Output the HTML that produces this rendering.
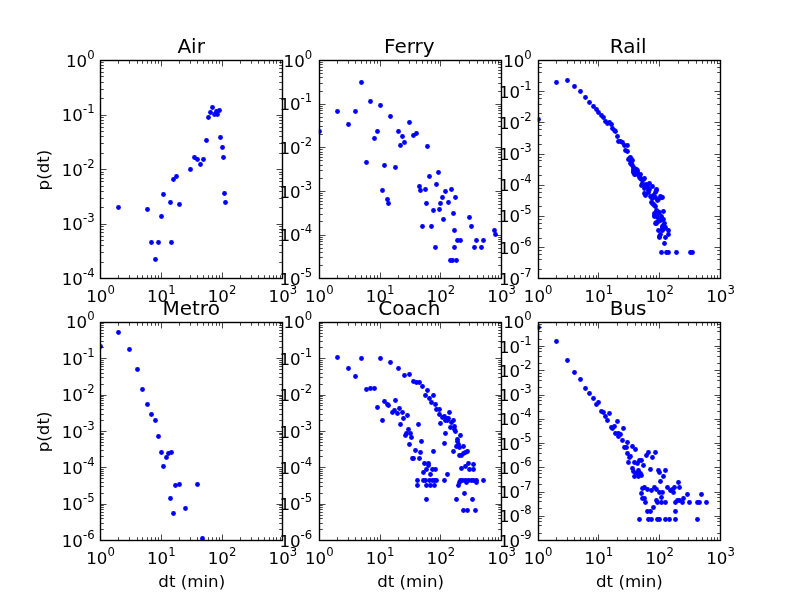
<!DOCTYPE html>
<html><head><meta charset="utf-8"><title>p(dt)</title>
<style>html,body{margin:0;padding:0;background:#fff}svg{display:block}text{font-family:"DejaVu Sans","Liberation Sans",sans-serif;fill:#000}</style></head><body>
<svg width="800" height="600" viewBox="0 0 800 600">
<rect width="800" height="600" fill="#fff"/>
<g>
<clipPath id="c0"><rect x="100.00" y="60.00" width="182.35" height="218.18"/></clipPath>
<g clip-path="url(#c0)" fill="#0000ff" >
<circle cx="212.5" cy="107.5" r="2.4"/>
<circle cx="210.5" cy="112.5" r="2.4"/>
<circle cx="219.5" cy="110.5" r="2.4"/>
<circle cx="216.5" cy="111.5" r="2.4"/>
<circle cx="214.5" cy="114.5" r="2.4"/>
<circle cx="217.5" cy="114.5" r="2.4"/>
<circle cx="208.5" cy="117.5" r="2.4"/>
<circle cx="220.5" cy="137.5" r="2.4"/>
<circle cx="206.5" cy="140.5" r="2.4"/>
<circle cx="222.5" cy="147.5" r="2.4"/>
<circle cx="223.5" cy="157.5" r="2.4"/>
<circle cx="194.5" cy="157.5" r="2.4"/>
<circle cx="197.5" cy="159.5" r="2.4"/>
<circle cx="203.5" cy="159.5" r="2.4"/>
<circle cx="200.5" cy="164.5" r="2.4"/>
<circle cx="190.5" cy="169.5" r="2.4"/>
<circle cx="176.5" cy="176.5" r="2.4"/>
<circle cx="173.5" cy="179.5" r="2.4"/>
<circle cx="163.5" cy="194.5" r="2.4"/>
<circle cx="224.5" cy="193.5" r="2.4"/>
<circle cx="170.5" cy="202.5" r="2.4"/>
<circle cx="179.5" cy="204.5" r="2.4"/>
<circle cx="225.5" cy="202.5" r="2.4"/>
<circle cx="118.5" cy="207.5" r="2.4"/>
<circle cx="147.5" cy="209.5" r="2.4"/>
<circle cx="161.5" cy="216.5" r="2.4"/>
<circle cx="151.5" cy="242.5" r="2.4"/>
<circle cx="158.5" cy="242.5" r="2.4"/>
<circle cx="171.5" cy="242.5" r="2.4"/>
<circle cx="155.5" cy="259.5" r="2.4"/>
</g>
<path d="M118.5 278.5v-3.3M118.5 60.5v3.3M129.5 278.5v-3.3M129.5 60.5v3.3M137.5 278.5v-3.3M137.5 60.5v3.3M142.5 278.5v-3.3M142.5 60.5v3.3M147.5 278.5v-3.3M147.5 60.5v3.3M151.5 278.5v-3.3M151.5 60.5v3.3M155.5 278.5v-3.3M155.5 60.5v3.3M158.5 278.5v-3.3M158.5 60.5v3.3M161.5 278.5v-6.0M161.5 60.5v6.0M179.5 278.5v-3.3M179.5 60.5v3.3M190.5 278.5v-3.3M190.5 60.5v3.3M197.5 278.5v-3.3M197.5 60.5v3.3M203.5 278.5v-3.3M203.5 60.5v3.3M208.5 278.5v-3.3M208.5 60.5v3.3M212.5 278.5v-3.3M212.5 60.5v3.3M216.5 278.5v-3.3M216.5 60.5v3.3M219.5 278.5v-3.3M219.5 60.5v3.3M222.5 278.5v-6.0M222.5 60.5v6.0M240.5 278.5v-3.3M240.5 60.5v3.3M251.5 278.5v-3.3M251.5 60.5v3.3M258.5 278.5v-3.3M258.5 60.5v3.3M264.5 278.5v-3.3M264.5 60.5v3.3M269.5 278.5v-3.3M269.5 60.5v3.3M273.5 278.5v-3.3M273.5 60.5v3.3M276.5 278.5v-3.3M276.5 60.5v3.3M280.5 278.5v-3.3M280.5 60.5v3.3M100.5 262.5h3.3M282.5 262.5h-3.3M100.5 252.5h3.3M282.5 252.5h-3.3M100.5 245.5h3.3M282.5 245.5h-3.3M100.5 240.5h3.3M282.5 240.5h-3.3M100.5 236.5h3.3M282.5 236.5h-3.3M100.5 232.5h3.3M282.5 232.5h-3.3M100.5 229.5h3.3M282.5 229.5h-3.3M100.5 226.5h3.3M282.5 226.5h-3.3M100.5 224.5h6.0M282.5 224.5h-6.0M100.5 207.5h3.3M282.5 207.5h-3.3M100.5 198.5h3.3M282.5 198.5h-3.3M100.5 191.5h3.3M282.5 191.5h-3.3M100.5 186.5h3.3M282.5 186.5h-3.3M100.5 181.5h3.3M282.5 181.5h-3.3M100.5 178.5h3.3M282.5 178.5h-3.3M100.5 174.5h3.3M282.5 174.5h-3.3M100.5 172.5h3.3M282.5 172.5h-3.3M100.5 169.5h6.0M282.5 169.5h-6.0M100.5 153.5h3.3M282.5 153.5h-3.3M100.5 143.5h3.3M282.5 143.5h-3.3M100.5 136.5h3.3M282.5 136.5h-3.3M100.5 131.5h3.3M282.5 131.5h-3.3M100.5 127.5h3.3M282.5 127.5h-3.3M100.5 123.5h3.3M282.5 123.5h-3.3M100.5 120.5h3.3M282.5 120.5h-3.3M100.5 117.5h3.3M282.5 117.5h-3.3M100.5 115.5h6.0M282.5 115.5h-6.0M100.5 98.5h3.3M282.5 98.5h-3.3M100.5 89.5h3.3M282.5 89.5h-3.3M100.5 82.5h3.3M282.5 82.5h-3.3M100.5 76.5h3.3M282.5 76.5h-3.3M100.5 72.5h3.3M282.5 72.5h-3.3M100.5 68.5h3.3M282.5 68.5h-3.3M100.5 65.5h3.3M282.5 65.5h-3.3M100.5 62.5h3.3M282.5 62.5h-3.3" stroke="#000" stroke-width="0.72" fill="none"/>
<rect x="100.5" y="60.5" width="182.0" height="218.0" fill="none" stroke="#000" stroke-width="1.39"/>
<text x="100.50" y="301.78" font-size="16.67" text-anchor="middle">10<tspan font-size="11.67" dy="-8.0">0</tspan></text>
<text x="161.28" y="301.78" font-size="16.67" text-anchor="middle">10<tspan font-size="11.67" dy="-8.0">1</tspan></text>
<text x="222.07" y="301.78" font-size="16.67" text-anchor="middle">10<tspan font-size="11.67" dy="-8.0">2</tspan></text>
<text x="282.85" y="301.78" font-size="16.67" text-anchor="middle">10<tspan font-size="11.67" dy="-8.0">3</tspan></text>
<text x="94.60" y="284.78" font-size="16.67" text-anchor="end">10<tspan font-size="11.67" dy="-8.0">-4</tspan></text>
<text x="94.60" y="230.24" font-size="16.67" text-anchor="end">10<tspan font-size="11.67" dy="-8.0">-3</tspan></text>
<text x="94.60" y="175.69" font-size="16.67" text-anchor="end">10<tspan font-size="11.67" dy="-8.0">-2</tspan></text>
<text x="94.60" y="121.15" font-size="16.67" text-anchor="end">10<tspan font-size="11.67" dy="-8.0">-1</tspan></text>
<text x="94.60" y="66.60" font-size="16.67" text-anchor="end">10<tspan font-size="11.67" dy="-8.0">0</tspan></text>
<text x="191.18" y="52.50" font-size="20" text-anchor="middle">Air</text>
<text transform="translate(48.8 170.09) rotate(-90)" font-size="16.67" text-anchor="middle">p(dt)</text>
</g>
<g>
<clipPath id="c1"><rect x="318.82" y="60.00" width="182.35" height="218.18"/></clipPath>
<g clip-path="url(#c1)" fill="#0000ff" >
<circle cx="361.5" cy="82.5" r="2.4"/>
<circle cx="370.5" cy="101.5" r="2.4"/>
<circle cx="380.5" cy="105.5" r="2.4"/>
<circle cx="337.5" cy="111.5" r="2.4"/>
<circle cx="355.5" cy="111.5" r="2.4"/>
<circle cx="390.5" cy="116.5" r="2.4"/>
<circle cx="348.5" cy="124.5" r="2.4"/>
<circle cx="409.5" cy="122.5" r="2.4"/>
<circle cx="319.5" cy="131.5" r="2.4"/>
<circle cx="377.5" cy="131.5" r="2.4"/>
<circle cx="398.5" cy="131.5" r="2.4"/>
<circle cx="402.5" cy="136.5" r="2.4"/>
<circle cx="413.5" cy="135.5" r="2.4"/>
<circle cx="416.5" cy="133.5" r="2.4"/>
<circle cx="374.5" cy="138.5" r="2.4"/>
<circle cx="404.5" cy="142.5" r="2.4"/>
<circle cx="400.5" cy="145.5" r="2.4"/>
<circle cx="427.5" cy="146.5" r="2.4"/>
<circle cx="366.5" cy="162.5" r="2.4"/>
<circle cx="384.5" cy="165.5" r="2.4"/>
<circle cx="395.5" cy="167.5" r="2.4"/>
<circle cx="438.5" cy="172.5" r="2.4"/>
<circle cx="429.5" cy="176.5" r="2.4"/>
<circle cx="436.5" cy="184.5" r="2.4"/>
<circle cx="419.5" cy="186.5" r="2.4"/>
<circle cx="420.5" cy="190.5" r="2.4"/>
<circle cx="425.5" cy="189.5" r="2.4"/>
<circle cx="382.5" cy="190.5" r="2.4"/>
<circle cx="451.5" cy="189.5" r="2.4"/>
<circle cx="445.5" cy="191.5" r="2.4"/>
<circle cx="442.5" cy="197.5" r="2.4"/>
<circle cx="455.5" cy="197.5" r="2.4"/>
<circle cx="387.5" cy="199.5" r="2.4"/>
<circle cx="388.5" cy="203.5" r="2.4"/>
<circle cx="426.5" cy="203.5" r="2.4"/>
<circle cx="440.5" cy="203.5" r="2.4"/>
<circle cx="448.5" cy="202.5" r="2.4"/>
<circle cx="433.5" cy="210.5" r="2.4"/>
<circle cx="439.5" cy="209.5" r="2.4"/>
<circle cx="453.5" cy="213.5" r="2.4"/>
<circle cx="443.5" cy="219.5" r="2.4"/>
<circle cx="469.5" cy="217.5" r="2.4"/>
<circle cx="422.5" cy="226.5" r="2.4"/>
<circle cx="431.5" cy="226.5" r="2.4"/>
<circle cx="471.5" cy="226.5" r="2.4"/>
<circle cx="454.5" cy="230.5" r="2.4"/>
<circle cx="494.5" cy="230.5" r="2.4"/>
<circle cx="495.5" cy="234.5" r="2.4"/>
<circle cx="457.5" cy="240.5" r="2.4"/>
<circle cx="460.5" cy="240.5" r="2.4"/>
<circle cx="476.5" cy="240.5" r="2.4"/>
<circle cx="483.5" cy="240.5" r="2.4"/>
<circle cx="435.5" cy="247.5" r="2.4"/>
<circle cx="454.5" cy="247.5" r="2.4"/>
<circle cx="474.5" cy="247.5" r="2.4"/>
<circle cx="481.5" cy="247.5" r="2.4"/>
<circle cx="450.5" cy="260.5" r="2.4"/>
<circle cx="452.5" cy="260.5" r="2.4"/>
<circle cx="456.5" cy="260.5" r="2.4"/>
</g>
<path d="M337.5 278.5v-3.3M337.5 60.5v3.3M348.5 278.5v-3.3M348.5 60.5v3.3M355.5 278.5v-3.3M355.5 60.5v3.3M361.5 278.5v-3.3M361.5 60.5v3.3M366.5 278.5v-3.3M366.5 60.5v3.3M370.5 278.5v-3.3M370.5 60.5v3.3M374.5 278.5v-3.3M374.5 60.5v3.3M377.5 278.5v-3.3M377.5 60.5v3.3M380.5 278.5v-6.0M380.5 60.5v6.0M398.5 278.5v-3.3M398.5 60.5v3.3M409.5 278.5v-3.3M409.5 60.5v3.3M416.5 278.5v-3.3M416.5 60.5v3.3M422.5 278.5v-3.3M422.5 60.5v3.3M427.5 278.5v-3.3M427.5 60.5v3.3M431.5 278.5v-3.3M431.5 60.5v3.3M435.5 278.5v-3.3M435.5 60.5v3.3M438.5 278.5v-3.3M438.5 60.5v3.3M440.5 278.5v-6.0M440.5 60.5v6.0M459.5 278.5v-3.3M459.5 60.5v3.3M469.5 278.5v-3.3M469.5 60.5v3.3M477.5 278.5v-3.3M477.5 60.5v3.3M483.5 278.5v-3.3M483.5 60.5v3.3M488.5 278.5v-3.3M488.5 60.5v3.3M492.5 278.5v-3.3M492.5 60.5v3.3M495.5 278.5v-3.3M495.5 60.5v3.3M498.5 278.5v-3.3M498.5 60.5v3.3M319.5 265.5h3.3M501.5 265.5h-3.3M319.5 257.5h3.3M501.5 257.5h-3.3M319.5 252.5h3.3M501.5 252.5h-3.3M319.5 248.5h3.3M501.5 248.5h-3.3M319.5 244.5h3.3M501.5 244.5h-3.3M319.5 241.5h3.3M501.5 241.5h-3.3M319.5 239.5h3.3M501.5 239.5h-3.3M319.5 237.5h3.3M501.5 237.5h-3.3M319.5 235.5h6.0M501.5 235.5h-6.0M319.5 221.5h3.3M501.5 221.5h-3.3M319.5 214.5h3.3M501.5 214.5h-3.3M319.5 208.5h3.3M501.5 208.5h-3.3M319.5 204.5h3.3M501.5 204.5h-3.3M319.5 201.5h3.3M501.5 201.5h-3.3M319.5 198.5h3.3M501.5 198.5h-3.3M319.5 195.5h3.3M501.5 195.5h-3.3M319.5 193.5h3.3M501.5 193.5h-3.3M319.5 191.5h6.0M501.5 191.5h-6.0M319.5 178.5h3.3M501.5 178.5h-3.3M319.5 170.5h3.3M501.5 170.5h-3.3M319.5 165.5h3.3M501.5 165.5h-3.3M319.5 160.5h3.3M501.5 160.5h-3.3M319.5 157.5h3.3M501.5 157.5h-3.3M319.5 154.5h3.3M501.5 154.5h-3.3M319.5 152.5h3.3M501.5 152.5h-3.3M319.5 149.5h3.3M501.5 149.5h-3.3M319.5 147.5h6.0M501.5 147.5h-6.0M319.5 134.5h3.3M501.5 134.5h-3.3M319.5 126.5h3.3M501.5 126.5h-3.3M319.5 121.5h3.3M501.5 121.5h-3.3M319.5 117.5h3.3M501.5 117.5h-3.3M319.5 113.5h3.3M501.5 113.5h-3.3M319.5 110.5h3.3M501.5 110.5h-3.3M319.5 108.5h3.3M501.5 108.5h-3.3M319.5 106.5h3.3M501.5 106.5h-3.3M319.5 104.5h6.0M501.5 104.5h-6.0M319.5 91.5h3.3M501.5 91.5h-3.3M319.5 83.5h3.3M501.5 83.5h-3.3M319.5 77.5h3.3M501.5 77.5h-3.3M319.5 73.5h3.3M501.5 73.5h-3.3M319.5 70.5h3.3M501.5 70.5h-3.3M319.5 67.5h3.3M501.5 67.5h-3.3M319.5 64.5h3.3M501.5 64.5h-3.3M319.5 62.5h3.3M501.5 62.5h-3.3" stroke="#000" stroke-width="0.72" fill="none"/>
<rect x="319.5" y="60.5" width="182.0" height="218.0" fill="none" stroke="#000" stroke-width="1.39"/>
<text x="319.32" y="301.78" font-size="16.67" text-anchor="middle">10<tspan font-size="11.67" dy="-8.0">0</tspan></text>
<text x="380.11" y="301.78" font-size="16.67" text-anchor="middle">10<tspan font-size="11.67" dy="-8.0">1</tspan></text>
<text x="440.89" y="301.78" font-size="16.67" text-anchor="middle">10<tspan font-size="11.67" dy="-8.0">2</tspan></text>
<text x="501.68" y="301.78" font-size="16.67" text-anchor="middle">10<tspan font-size="11.67" dy="-8.0">3</tspan></text>
<text x="312.22" y="284.78" font-size="16.67" text-anchor="end">10<tspan font-size="11.67" dy="-8.0">-5</tspan></text>
<text x="312.22" y="241.15" font-size="16.67" text-anchor="end">10<tspan font-size="11.67" dy="-8.0">-4</tspan></text>
<text x="312.22" y="197.51" font-size="16.67" text-anchor="end">10<tspan font-size="11.67" dy="-8.0">-3</tspan></text>
<text x="312.22" y="153.87" font-size="16.67" text-anchor="end">10<tspan font-size="11.67" dy="-8.0">-2</tspan></text>
<text x="312.22" y="110.24" font-size="16.67" text-anchor="end">10<tspan font-size="11.67" dy="-8.0">-1</tspan></text>
<text x="312.22" y="66.60" font-size="16.67" text-anchor="end">10<tspan font-size="11.67" dy="-8.0">0</tspan></text>
<text x="409.30" y="52.50" font-size="20" text-anchor="middle">Ferry</text>
</g>
<g>
<clipPath id="c2"><rect x="537.65" y="60.00" width="182.35" height="218.18"/></clipPath>
<g clip-path="url(#c2)" fill="#0000ff" >
<circle cx="538.5" cy="119.5" r="2.4"/>
<circle cx="556.5" cy="82.5" r="2.4"/>
<circle cx="567.5" cy="80.5" r="2.4"/>
<circle cx="574.5" cy="86.5" r="2.4"/>
<circle cx="580.5" cy="91.5" r="2.4"/>
<circle cx="585.5" cy="97.5" r="2.4"/>
<circle cx="589.5" cy="102.5" r="2.4"/>
<circle cx="593.5" cy="106.5" r="2.4"/>
<circle cx="596.5" cy="109.5" r="2.4"/>
<circle cx="598.5" cy="112.5" r="2.4"/>
<circle cx="601.5" cy="115.5" r="2.4"/>
<circle cx="603.5" cy="117.5" r="2.4"/>
<circle cx="605.5" cy="121.5" r="2.4"/>
<circle cx="607.5" cy="123.5" r="2.4"/>
<circle cx="609.5" cy="122.5" r="2.4"/>
<circle cx="611.5" cy="124.5" r="2.4"/>
<circle cx="612.5" cy="128.5" r="2.4"/>
<circle cx="614.5" cy="130.5" r="2.4"/>
<circle cx="615.5" cy="131.5" r="2.4"/>
<circle cx="617.5" cy="136.5" r="2.4"/>
<circle cx="618.5" cy="141.5" r="2.4"/>
<circle cx="620.5" cy="141.5" r="2.4"/>
<circle cx="622.5" cy="142.5" r="2.4"/>
<circle cx="624.5" cy="145.5" r="2.4"/>
<circle cx="627.5" cy="145.5" r="2.4"/>
<circle cx="625.5" cy="150.5" r="2.4"/>
<circle cx="627.5" cy="151.5" r="2.4"/>
<circle cx="628.5" cy="159.5" r="2.4"/>
<circle cx="630.5" cy="157.5" r="2.4"/>
<circle cx="632.5" cy="160.5" r="2.4"/>
<circle cx="630.5" cy="163.5" r="2.4"/>
<circle cx="632.5" cy="165.5" r="2.4"/>
<circle cx="634.5" cy="168.5" r="2.4"/>
<circle cx="633.5" cy="171.5" r="2.4"/>
<circle cx="635.5" cy="169.5" r="2.4"/>
<circle cx="637.5" cy="170.5" r="2.4"/>
<circle cx="634.5" cy="174.5" r="2.4"/>
<circle cx="637.5" cy="173.5" r="2.4"/>
<circle cx="640.5" cy="174.5" r="2.4"/>
<circle cx="639.5" cy="177.5" r="2.4"/>
<circle cx="641.5" cy="179.5" r="2.4"/>
<circle cx="644.5" cy="178.5" r="2.4"/>
<circle cx="642.5" cy="183.5" r="2.4"/>
<circle cx="649.5" cy="183.5" r="2.4"/>
<circle cx="641.5" cy="185.5" r="2.4"/>
<circle cx="646.5" cy="186.5" r="2.4"/>
<circle cx="652.5" cy="186.5" r="2.4"/>
<circle cx="644.5" cy="188.5" r="2.4"/>
<circle cx="649.5" cy="189.5" r="2.4"/>
<circle cx="656.5" cy="189.5" r="2.4"/>
<circle cx="644.5" cy="193.5" r="2.4"/>
<circle cx="648.5" cy="192.5" r="2.4"/>
<circle cx="655.5" cy="192.5" r="2.4"/>
<circle cx="645.5" cy="195.5" r="2.4"/>
<circle cx="650.5" cy="196.5" r="2.4"/>
<circle cx="652.5" cy="198.5" r="2.4"/>
<circle cx="660.5" cy="196.5" r="2.4"/>
<circle cx="662.5" cy="197.5" r="2.4"/>
<circle cx="658.5" cy="199.5" r="2.4"/>
<circle cx="651.5" cy="202.5" r="2.4"/>
<circle cx="653.5" cy="204.5" r="2.4"/>
<circle cx="655.5" cy="206.5" r="2.4"/>
<circle cx="656.5" cy="210.5" r="2.4"/>
<circle cx="663.5" cy="211.5" r="2.4"/>
<circle cx="659.5" cy="212.5" r="2.4"/>
<circle cx="654.5" cy="213.5" r="2.4"/>
<circle cx="657.5" cy="200.5" r="2.4"/>
<circle cx="658.5" cy="213.5" r="2.4"/>
<circle cx="654.5" cy="216.5" r="2.4"/>
<circle cx="663.5" cy="219.5" r="2.4"/>
<circle cx="660.5" cy="220.5" r="2.4"/>
<circle cx="656.5" cy="222.5" r="2.4"/>
<circle cx="655.5" cy="223.5" r="2.4"/>
<circle cx="664.5" cy="223.5" r="2.4"/>
<circle cx="662.5" cy="226.5" r="2.4"/>
<circle cx="665.5" cy="227.5" r="2.4"/>
<circle cx="658.5" cy="230.5" r="2.4"/>
<circle cx="662.5" cy="230.5" r="2.4"/>
<circle cx="663.5" cy="228.5" r="2.4"/>
<circle cx="668.5" cy="230.5" r="2.4"/>
<circle cx="660.5" cy="234.5" r="2.4"/>
<circle cx="668.5" cy="234.5" r="2.4"/>
<circle cx="659.5" cy="237.5" r="2.4"/>
<circle cx="665.5" cy="237.5" r="2.4"/>
<circle cx="664.5" cy="243.5" r="2.4"/>
<circle cx="661.5" cy="252.5" r="2.4"/>
<circle cx="666.5" cy="252.5" r="2.4"/>
<circle cx="668.5" cy="252.5" r="2.4"/>
<circle cx="676.5" cy="252.5" r="2.4"/>
<circle cx="690.5" cy="252.5" r="2.4"/>
<circle cx="692.5" cy="252.5" r="2.4"/>
<circle cx="629.5" cy="158.5" r="2.4"/>
<circle cx="631.5" cy="159.5" r="2.4"/>
<circle cx="631.5" cy="161.5" r="2.4"/>
<circle cx="631.5" cy="164.5" r="2.4"/>
<circle cx="633.5" cy="167.5" r="2.4"/>
<circle cx="633.5" cy="169.5" r="2.4"/>
<circle cx="634.5" cy="170.5" r="2.4"/>
<circle cx="633.5" cy="172.5" r="2.4"/>
<circle cx="636.5" cy="169.5" r="2.4"/>
<circle cx="637.5" cy="172.5" r="2.4"/>
<circle cx="635.5" cy="174.5" r="2.4"/>
<circle cx="638.5" cy="174.5" r="2.4"/>
<circle cx="639.5" cy="175.5" r="2.4"/>
<circle cx="640.5" cy="178.5" r="2.4"/>
<circle cx="643.5" cy="179.5" r="2.4"/>
<circle cx="642.5" cy="184.5" r="2.4"/>
<circle cx="645.5" cy="187.5" r="2.4"/>
<circle cx="648.5" cy="190.5" r="2.4"/>
<circle cx="656.5" cy="190.5" r="2.4"/>
<circle cx="645.5" cy="194.5" r="2.4"/>
<circle cx="651.5" cy="197.5" r="2.4"/>
<circle cx="661.5" cy="197.5" r="2.4"/>
<circle cx="652.5" cy="203.5" r="2.4"/>
<circle cx="654.5" cy="205.5" r="2.4"/>
<circle cx="657.5" cy="211.5" r="2.4"/>
<circle cx="654.5" cy="215.5" r="2.4"/>
<circle cx="661.5" cy="219.5" r="2.4"/>
<circle cx="656.5" cy="223.5" r="2.4"/>
<circle cx="663.5" cy="225.5" r="2.4"/>
<circle cx="664.5" cy="227.5" r="2.4"/>
<circle cx="662.5" cy="227.5" r="2.4"/>
<circle cx="664.5" cy="228.5" r="2.4"/>
<circle cx="662.5" cy="229.5" r="2.4"/>
<circle cx="659.5" cy="236.5" r="2.4"/>
<circle cx="655.5" cy="197.5" r="2.4"/>
<circle cx="658.5" cy="221.5" r="2.4"/>
<circle cx="646.5" cy="184.5" r="2.4"/>
<circle cx="647.5" cy="186.5" r="2.4"/>
<circle cx="653.5" cy="195.5" r="2.4"/>
<circle cx="657.5" cy="217.5" r="2.4"/>
<circle cx="661.5" cy="216.5" r="2.4"/>
</g>
<path d="M556.5 278.5v-3.3M556.5 60.5v3.3M567.5 278.5v-3.3M567.5 60.5v3.3M574.5 278.5v-3.3M574.5 60.5v3.3M580.5 278.5v-3.3M580.5 60.5v3.3M585.5 278.5v-3.3M585.5 60.5v3.3M589.5 278.5v-3.3M589.5 60.5v3.3M593.5 278.5v-3.3M593.5 60.5v3.3M596.5 278.5v-3.3M596.5 60.5v3.3M598.5 278.5v-6.0M598.5 60.5v6.0M617.5 278.5v-3.3M617.5 60.5v3.3M627.5 278.5v-3.3M627.5 60.5v3.3M635.5 278.5v-3.3M635.5 60.5v3.3M641.5 278.5v-3.3M641.5 60.5v3.3M646.5 278.5v-3.3M646.5 60.5v3.3M650.5 278.5v-3.3M650.5 60.5v3.3M653.5 278.5v-3.3M653.5 60.5v3.3M656.5 278.5v-3.3M656.5 60.5v3.3M659.5 278.5v-6.0M659.5 60.5v6.0M678.5 278.5v-3.3M678.5 60.5v3.3M688.5 278.5v-3.3M688.5 60.5v3.3M696.5 278.5v-3.3M696.5 60.5v3.3M702.5 278.5v-3.3M702.5 60.5v3.3M707.5 278.5v-3.3M707.5 60.5v3.3M711.5 278.5v-3.3M711.5 60.5v3.3M714.5 278.5v-3.3M714.5 60.5v3.3M717.5 278.5v-3.3M717.5 60.5v3.3M538.5 269.5h3.3M720.5 269.5h-3.3M538.5 259.5h3.3M720.5 259.5h-3.3M538.5 254.5h3.3M720.5 254.5h-3.3M538.5 250.5h3.3M720.5 250.5h-3.3M538.5 247.5h6.0M720.5 247.5h-6.0M538.5 238.5h3.3M720.5 238.5h-3.3M538.5 228.5h3.3M720.5 228.5h-3.3M538.5 223.5h3.3M720.5 223.5h-3.3M538.5 219.5h3.3M720.5 219.5h-3.3M538.5 216.5h6.0M720.5 216.5h-6.0M538.5 206.5h3.3M720.5 206.5h-3.3M538.5 197.5h3.3M720.5 197.5h-3.3M538.5 192.5h3.3M720.5 192.5h-3.3M538.5 188.5h3.3M720.5 188.5h-3.3M538.5 185.5h6.0M720.5 185.5h-6.0M538.5 175.5h3.3M720.5 175.5h-3.3M538.5 166.5h3.3M720.5 166.5h-3.3M538.5 160.5h3.3M720.5 160.5h-3.3M538.5 157.5h3.3M720.5 157.5h-3.3M538.5 154.5h6.0M720.5 154.5h-6.0M538.5 144.5h3.3M720.5 144.5h-3.3M538.5 135.5h3.3M720.5 135.5h-3.3M538.5 129.5h3.3M720.5 129.5h-3.3M538.5 125.5h3.3M720.5 125.5h-3.3M538.5 122.5h6.0M720.5 122.5h-6.0M538.5 113.5h3.3M720.5 113.5h-3.3M538.5 104.5h3.3M720.5 104.5h-3.3M538.5 98.5h3.3M720.5 98.5h-3.3M538.5 94.5h3.3M720.5 94.5h-3.3M538.5 91.5h6.0M720.5 91.5h-6.0M538.5 82.5h3.3M720.5 82.5h-3.3M538.5 72.5h3.3M720.5 72.5h-3.3M538.5 67.5h3.3M720.5 67.5h-3.3M538.5 63.5h3.3M720.5 63.5h-3.3" stroke="#000" stroke-width="0.72" fill="none"/>
<rect x="538.5" y="60.5" width="182.0" height="218.0" fill="none" stroke="#000" stroke-width="1.39"/>
<text x="538.15" y="301.78" font-size="16.67" text-anchor="middle">10<tspan font-size="11.67" dy="-8.0">0</tspan></text>
<text x="598.93" y="301.78" font-size="16.67" text-anchor="middle">10<tspan font-size="11.67" dy="-8.0">1</tspan></text>
<text x="659.72" y="301.78" font-size="16.67" text-anchor="middle">10<tspan font-size="11.67" dy="-8.0">2</tspan></text>
<text x="720.50" y="301.78" font-size="16.67" text-anchor="middle">10<tspan font-size="11.67" dy="-8.0">3</tspan></text>
<text x="531.75" y="284.78" font-size="16.67" text-anchor="end">10<tspan font-size="11.67" dy="-8.0">-7</tspan></text>
<text x="531.75" y="253.61" font-size="16.67" text-anchor="end">10<tspan font-size="11.67" dy="-8.0">-6</tspan></text>
<text x="531.75" y="222.44" font-size="16.67" text-anchor="end">10<tspan font-size="11.67" dy="-8.0">-5</tspan></text>
<text x="531.75" y="191.28" font-size="16.67" text-anchor="end">10<tspan font-size="11.67" dy="-8.0">-4</tspan></text>
<text x="531.75" y="160.11" font-size="16.67" text-anchor="end">10<tspan font-size="11.67" dy="-8.0">-3</tspan></text>
<text x="531.75" y="128.94" font-size="16.67" text-anchor="end">10<tspan font-size="11.67" dy="-8.0">-2</tspan></text>
<text x="531.75" y="97.77" font-size="16.67" text-anchor="end">10<tspan font-size="11.67" dy="-8.0">-1</tspan></text>
<text x="531.75" y="66.60" font-size="16.67" text-anchor="end">10<tspan font-size="11.67" dy="-8.0">0</tspan></text>
<text x="628.12" y="52.50" font-size="20" text-anchor="middle">Rail</text>
</g>
<g>
<clipPath id="c3"><rect x="100.00" y="321.82" width="182.35" height="218.18"/></clipPath>
<g clip-path="url(#c3)" fill="#0000ff" >
<circle cx="100.5" cy="346.5" r="2.4"/>
<circle cx="118.5" cy="332.5" r="2.4"/>
<circle cx="129.5" cy="349.5" r="2.4"/>
<circle cx="137.5" cy="369.5" r="2.4"/>
<circle cx="142.5" cy="389.5" r="2.4"/>
<circle cx="147.5" cy="404.5" r="2.4"/>
<circle cx="151.5" cy="414.5" r="2.4"/>
<circle cx="155.5" cy="420.5" r="2.4"/>
<circle cx="158.5" cy="436.5" r="2.4"/>
<circle cx="161.5" cy="452.5" r="2.4"/>
<circle cx="166.5" cy="457.5" r="2.4"/>
<circle cx="168.5" cy="453.5" r="2.4"/>
<circle cx="171.5" cy="452.5" r="2.4"/>
<circle cx="163.5" cy="466.5" r="2.4"/>
<circle cx="175.5" cy="485.5" r="2.4"/>
<circle cx="179.5" cy="484.5" r="2.4"/>
<circle cx="197.5" cy="484.5" r="2.4"/>
<circle cx="170.5" cy="498.5" r="2.4"/>
<circle cx="185.5" cy="508.5" r="2.4"/>
<circle cx="173.5" cy="513.5" r="2.4"/>
<circle cx="202.5" cy="538.5" r="2.4"/>
</g>
<path d="M118.5 540.5v-3.3M118.5 322.5v3.3M129.5 540.5v-3.3M129.5 322.5v3.3M137.5 540.5v-3.3M137.5 322.5v3.3M142.5 540.5v-3.3M142.5 322.5v3.3M147.5 540.5v-3.3M147.5 322.5v3.3M151.5 540.5v-3.3M151.5 322.5v3.3M155.5 540.5v-3.3M155.5 322.5v3.3M158.5 540.5v-3.3M158.5 322.5v3.3M161.5 540.5v-6.0M161.5 322.5v6.0M179.5 540.5v-3.3M179.5 322.5v3.3M190.5 540.5v-3.3M190.5 322.5v3.3M197.5 540.5v-3.3M197.5 322.5v3.3M203.5 540.5v-3.3M203.5 322.5v3.3M208.5 540.5v-3.3M208.5 322.5v3.3M212.5 540.5v-3.3M212.5 322.5v3.3M216.5 540.5v-3.3M216.5 322.5v3.3M219.5 540.5v-3.3M219.5 322.5v3.3M222.5 540.5v-6.0M222.5 322.5v6.0M240.5 540.5v-3.3M240.5 322.5v3.3M251.5 540.5v-3.3M251.5 322.5v3.3M258.5 540.5v-3.3M258.5 322.5v3.3M264.5 540.5v-3.3M264.5 322.5v3.3M269.5 540.5v-3.3M269.5 322.5v3.3M273.5 540.5v-3.3M273.5 322.5v3.3M276.5 540.5v-3.3M276.5 322.5v3.3M280.5 540.5v-3.3M280.5 322.5v3.3M100.5 529.5h3.3M282.5 529.5h-3.3M100.5 523.5h3.3M282.5 523.5h-3.3M100.5 518.5h3.3M282.5 518.5h-3.3M100.5 515.5h3.3M282.5 515.5h-3.3M100.5 512.5h3.3M282.5 512.5h-3.3M100.5 509.5h3.3M282.5 509.5h-3.3M100.5 507.5h3.3M282.5 507.5h-3.3M100.5 505.5h3.3M282.5 505.5h-3.3M100.5 504.5h6.0M282.5 504.5h-6.0M100.5 493.5h3.3M282.5 493.5h-3.3M100.5 486.5h3.3M282.5 486.5h-3.3M100.5 482.5h3.3M282.5 482.5h-3.3M100.5 478.5h3.3M282.5 478.5h-3.3M100.5 475.5h3.3M282.5 475.5h-3.3M100.5 473.5h3.3M282.5 473.5h-3.3M100.5 471.5h3.3M282.5 471.5h-3.3M100.5 469.5h3.3M282.5 469.5h-3.3M100.5 467.5h6.0M282.5 467.5h-6.0M100.5 456.5h3.3M282.5 456.5h-3.3M100.5 450.5h3.3M282.5 450.5h-3.3M100.5 445.5h3.3M282.5 445.5h-3.3M100.5 442.5h3.3M282.5 442.5h-3.3M100.5 439.5h3.3M282.5 439.5h-3.3M100.5 437.5h3.3M282.5 437.5h-3.3M100.5 434.5h3.3M282.5 434.5h-3.3M100.5 433.5h3.3M282.5 433.5h-3.3M100.5 431.5h6.0M282.5 431.5h-6.0M100.5 420.5h3.3M282.5 420.5h-3.3M100.5 414.5h3.3M282.5 414.5h-3.3M100.5 409.5h3.3M282.5 409.5h-3.3M100.5 405.5h3.3M282.5 405.5h-3.3M100.5 403.5h3.3M282.5 403.5h-3.3M100.5 400.5h3.3M282.5 400.5h-3.3M100.5 398.5h3.3M282.5 398.5h-3.3M100.5 396.5h3.3M282.5 396.5h-3.3M100.5 395.5h6.0M282.5 395.5h-6.0M100.5 384.5h3.3M282.5 384.5h-3.3M100.5 377.5h3.3M282.5 377.5h-3.3M100.5 373.5h3.3M282.5 373.5h-3.3M100.5 369.5h3.3M282.5 369.5h-3.3M100.5 366.5h3.3M282.5 366.5h-3.3M100.5 364.5h3.3M282.5 364.5h-3.3M100.5 362.5h3.3M282.5 362.5h-3.3M100.5 360.5h3.3M282.5 360.5h-3.3M100.5 358.5h6.0M282.5 358.5h-6.0M100.5 347.5h3.3M282.5 347.5h-3.3M100.5 341.5h3.3M282.5 341.5h-3.3M100.5 336.5h3.3M282.5 336.5h-3.3M100.5 333.5h3.3M282.5 333.5h-3.3M100.5 330.5h3.3M282.5 330.5h-3.3M100.5 327.5h3.3M282.5 327.5h-3.3M100.5 325.5h3.3M282.5 325.5h-3.3M100.5 323.5h3.3M282.5 323.5h-3.3" stroke="#000" stroke-width="0.72" fill="none"/>
<rect x="100.5" y="322.5" width="182.0" height="218.0" fill="none" stroke="#000" stroke-width="1.39"/>
<text x="100.50" y="563.60" font-size="16.67" text-anchor="middle">10<tspan font-size="11.67" dy="-8.0">0</tspan></text>
<text x="161.28" y="563.60" font-size="16.67" text-anchor="middle">10<tspan font-size="11.67" dy="-8.0">1</tspan></text>
<text x="222.07" y="563.60" font-size="16.67" text-anchor="middle">10<tspan font-size="11.67" dy="-8.0">2</tspan></text>
<text x="282.85" y="563.60" font-size="16.67" text-anchor="middle">10<tspan font-size="11.67" dy="-8.0">3</tspan></text>
<text x="94.60" y="546.60" font-size="16.67" text-anchor="end">10<tspan font-size="11.67" dy="-8.0">-6</tspan></text>
<text x="94.60" y="510.24" font-size="16.67" text-anchor="end">10<tspan font-size="11.67" dy="-8.0">-5</tspan></text>
<text x="94.60" y="473.87" font-size="16.67" text-anchor="end">10<tspan font-size="11.67" dy="-8.0">-4</tspan></text>
<text x="94.60" y="437.51" font-size="16.67" text-anchor="end">10<tspan font-size="11.67" dy="-8.0">-3</tspan></text>
<text x="94.60" y="401.15" font-size="16.67" text-anchor="end">10<tspan font-size="11.67" dy="-8.0">-2</tspan></text>
<text x="94.60" y="364.78" font-size="16.67" text-anchor="end">10<tspan font-size="11.67" dy="-8.0">-1</tspan></text>
<text x="94.60" y="328.42" font-size="16.67" text-anchor="end">10<tspan font-size="11.67" dy="-8.0">0</tspan></text>
<text x="191.18" y="315.12" font-size="20" text-anchor="middle">Metro</text>
<text x="191.78" y="586.50" font-size="16.67" text-anchor="middle">dt (min)</text>
<text transform="translate(48.8 431.91) rotate(-90)" font-size="16.67" text-anchor="middle">p(dt)</text>
</g>
<g>
<clipPath id="c4"><rect x="318.82" y="321.82" width="182.35" height="218.18"/></clipPath>
<g clip-path="url(#c4)" fill="#0000ff" >
<circle cx="337.5" cy="357.5" r="2.4"/>
<circle cx="348.5" cy="368.5" r="2.4"/>
<circle cx="355.5" cy="376.5" r="2.4"/>
<circle cx="361.5" cy="358.5" r="2.4"/>
<circle cx="366.5" cy="389.5" r="2.4"/>
<circle cx="370.5" cy="388.5" r="2.4"/>
<circle cx="374.5" cy="388.5" r="2.4"/>
<circle cx="380.5" cy="358.5" r="2.4"/>
<circle cx="377.5" cy="407.5" r="2.4"/>
<circle cx="390.5" cy="362.5" r="2.4"/>
<circle cx="384.5" cy="401.5" r="2.4"/>
<circle cx="382.5" cy="420.5" r="2.4"/>
<circle cx="387.5" cy="404.5" r="2.4"/>
<circle cx="388.5" cy="405.5" r="2.4"/>
<circle cx="395.5" cy="400.5" r="2.4"/>
<circle cx="398.5" cy="368.5" r="2.4"/>
<circle cx="392.5" cy="412.5" r="2.4"/>
<circle cx="394.5" cy="410.5" r="2.4"/>
<circle cx="397.5" cy="413.5" r="2.4"/>
<circle cx="399.5" cy="408.5" r="2.4"/>
<circle cx="402.5" cy="412.5" r="2.4"/>
<circle cx="404.5" cy="375.5" r="2.4"/>
<circle cx="409.5" cy="374.5" r="2.4"/>
<circle cx="403.5" cy="418.5" r="2.4"/>
<circle cx="407.5" cy="415.5" r="2.4"/>
<circle cx="400.5" cy="424.5" r="2.4"/>
<circle cx="408.5" cy="429.5" r="2.4"/>
<circle cx="413.5" cy="381.5" r="2.4"/>
<circle cx="416.5" cy="382.5" r="2.4"/>
<circle cx="419.5" cy="382.5" r="2.4"/>
<circle cx="422.5" cy="386.5" r="2.4"/>
<circle cx="427.5" cy="390.5" r="2.4"/>
<circle cx="425.5" cy="395.5" r="2.4"/>
<circle cx="433.5" cy="395.5" r="2.4"/>
<circle cx="429.5" cy="398.5" r="2.4"/>
<circle cx="431.5" cy="402.5" r="2.4"/>
<circle cx="435.5" cy="404.5" r="2.4"/>
<circle cx="436.5" cy="409.5" r="2.4"/>
<circle cx="439.5" cy="409.5" r="2.4"/>
<circle cx="439.5" cy="414.5" r="2.4"/>
<circle cx="440.5" cy="423.5" r="2.4"/>
<circle cx="418.5" cy="424.5" r="2.4"/>
<circle cx="406.5" cy="433.5" r="2.4"/>
<circle cx="410.5" cy="433.5" r="2.4"/>
<circle cx="405.5" cy="435.5" r="2.4"/>
<circle cx="411.5" cy="437.5" r="2.4"/>
<circle cx="421.5" cy="441.5" r="2.4"/>
<circle cx="409.5" cy="444.5" r="2.4"/>
<circle cx="415.5" cy="450.5" r="2.4"/>
<circle cx="420.5" cy="452.5" r="2.4"/>
<circle cx="433.5" cy="451.5" r="2.4"/>
<circle cx="412.5" cy="458.5" r="2.4"/>
<circle cx="413.5" cy="458.5" r="2.4"/>
<circle cx="419.5" cy="458.5" r="2.4"/>
<circle cx="424.5" cy="463.5" r="2.4"/>
<circle cx="428.5" cy="463.5" r="2.4"/>
<circle cx="428.5" cy="465.5" r="2.4"/>
<circle cx="449.5" cy="412.5" r="2.4"/>
<circle cx="442.5" cy="417.5" r="2.4"/>
<circle cx="444.5" cy="416.5" r="2.4"/>
<circle cx="446.5" cy="418.5" r="2.4"/>
<circle cx="448.5" cy="418.5" r="2.4"/>
<circle cx="445.5" cy="420.5" r="2.4"/>
<circle cx="447.5" cy="420.5" r="2.4"/>
<circle cx="453.5" cy="420.5" r="2.4"/>
<circle cx="451.5" cy="422.5" r="2.4"/>
<circle cx="454.5" cy="426.5" r="2.4"/>
<circle cx="450.5" cy="427.5" r="2.4"/>
<circle cx="454.5" cy="429.5" r="2.4"/>
<circle cx="455.5" cy="431.5" r="2.4"/>
<circle cx="445.5" cy="433.5" r="2.4"/>
<circle cx="460.5" cy="435.5" r="2.4"/>
<circle cx="457.5" cy="439.5" r="2.4"/>
<circle cx="444.5" cy="443.5" r="2.4"/>
<circle cx="458.5" cy="444.5" r="2.4"/>
<circle cx="456.5" cy="446.5" r="2.4"/>
<circle cx="459.5" cy="447.5" r="2.4"/>
<circle cx="463.5" cy="446.5" r="2.4"/>
<circle cx="457.5" cy="441.5" r="2.4"/>
<circle cx="453.5" cy="451.5" r="2.4"/>
<circle cx="459.5" cy="455.5" r="2.4"/>
<circle cx="461.5" cy="455.5" r="2.4"/>
<circle cx="463.5" cy="453.5" r="2.4"/>
<circle cx="465.5" cy="452.5" r="2.4"/>
<circle cx="467.5" cy="451.5" r="2.4"/>
<circle cx="468.5" cy="463.5" r="2.4"/>
<circle cx="473.5" cy="464.5" r="2.4"/>
<circle cx="465.5" cy="466.5" r="2.4"/>
<circle cx="461.5" cy="468.5" r="2.4"/>
<circle cx="469.5" cy="469.5" r="2.4"/>
<circle cx="473.5" cy="469.5" r="2.4"/>
<circle cx="426.5" cy="469.5" r="2.4"/>
<circle cx="432.5" cy="469.5" r="2.4"/>
<circle cx="435.5" cy="469.5" r="2.4"/>
<circle cx="423.5" cy="472.5" r="2.4"/>
<circle cx="430.5" cy="474.5" r="2.4"/>
<circle cx="447.5" cy="474.5" r="2.4"/>
<circle cx="417.5" cy="480.5" r="2.4"/>
<circle cx="423.5" cy="480.5" r="2.4"/>
<circle cx="425.5" cy="480.5" r="2.4"/>
<circle cx="429.5" cy="480.5" r="2.4"/>
<circle cx="432.5" cy="480.5" r="2.4"/>
<circle cx="434.5" cy="480.5" r="2.4"/>
<circle cx="436.5" cy="480.5" r="2.4"/>
<circle cx="444.5" cy="480.5" r="2.4"/>
<circle cx="417.5" cy="485.5" r="2.4"/>
<circle cx="426.5" cy="485.5" r="2.4"/>
<circle cx="430.5" cy="485.5" r="2.4"/>
<circle cx="434.5" cy="485.5" r="2.4"/>
<circle cx="426.5" cy="499.5" r="2.4"/>
<circle cx="460.5" cy="480.5" r="2.4"/>
<circle cx="462.5" cy="480.5" r="2.4"/>
<circle cx="465.5" cy="480.5" r="2.4"/>
<circle cx="468.5" cy="480.5" r="2.4"/>
<circle cx="471.5" cy="480.5" r="2.4"/>
<circle cx="473.5" cy="480.5" r="2.4"/>
<circle cx="476.5" cy="480.5" r="2.4"/>
<circle cx="483.5" cy="480.5" r="2.4"/>
<circle cx="459.5" cy="482.5" r="2.4"/>
<circle cx="466.5" cy="482.5" r="2.4"/>
<circle cx="476.5" cy="482.5" r="2.4"/>
<circle cx="458.5" cy="485.5" r="2.4"/>
<circle cx="464.5" cy="493.5" r="2.4"/>
<circle cx="456.5" cy="499.5" r="2.4"/>
<circle cx="472.5" cy="499.5" r="2.4"/>
<circle cx="463.5" cy="510.5" r="2.4"/>
<circle cx="467.5" cy="510.5" r="2.4"/>
<circle cx="475.5" cy="510.5" r="2.4"/>
</g>
<path d="M337.5 540.5v-3.3M337.5 322.5v3.3M348.5 540.5v-3.3M348.5 322.5v3.3M355.5 540.5v-3.3M355.5 322.5v3.3M361.5 540.5v-3.3M361.5 322.5v3.3M366.5 540.5v-3.3M366.5 322.5v3.3M370.5 540.5v-3.3M370.5 322.5v3.3M374.5 540.5v-3.3M374.5 322.5v3.3M377.5 540.5v-3.3M377.5 322.5v3.3M380.5 540.5v-6.0M380.5 322.5v6.0M398.5 540.5v-3.3M398.5 322.5v3.3M409.5 540.5v-3.3M409.5 322.5v3.3M416.5 540.5v-3.3M416.5 322.5v3.3M422.5 540.5v-3.3M422.5 322.5v3.3M427.5 540.5v-3.3M427.5 322.5v3.3M431.5 540.5v-3.3M431.5 322.5v3.3M435.5 540.5v-3.3M435.5 322.5v3.3M438.5 540.5v-3.3M438.5 322.5v3.3M440.5 540.5v-6.0M440.5 322.5v6.0M459.5 540.5v-3.3M459.5 322.5v3.3M469.5 540.5v-3.3M469.5 322.5v3.3M477.5 540.5v-3.3M477.5 322.5v3.3M483.5 540.5v-3.3M483.5 322.5v3.3M488.5 540.5v-3.3M488.5 322.5v3.3M492.5 540.5v-3.3M492.5 322.5v3.3M495.5 540.5v-3.3M495.5 322.5v3.3M498.5 540.5v-3.3M498.5 322.5v3.3M319.5 529.5h3.3M501.5 529.5h-3.3M319.5 523.5h3.3M501.5 523.5h-3.3M319.5 518.5h3.3M501.5 518.5h-3.3M319.5 515.5h3.3M501.5 515.5h-3.3M319.5 512.5h3.3M501.5 512.5h-3.3M319.5 509.5h3.3M501.5 509.5h-3.3M319.5 507.5h3.3M501.5 507.5h-3.3M319.5 505.5h3.3M501.5 505.5h-3.3M319.5 504.5h6.0M501.5 504.5h-6.0M319.5 493.5h3.3M501.5 493.5h-3.3M319.5 486.5h3.3M501.5 486.5h-3.3M319.5 482.5h3.3M501.5 482.5h-3.3M319.5 478.5h3.3M501.5 478.5h-3.3M319.5 475.5h3.3M501.5 475.5h-3.3M319.5 473.5h3.3M501.5 473.5h-3.3M319.5 471.5h3.3M501.5 471.5h-3.3M319.5 469.5h3.3M501.5 469.5h-3.3M319.5 467.5h6.0M501.5 467.5h-6.0M319.5 456.5h3.3M501.5 456.5h-3.3M319.5 450.5h3.3M501.5 450.5h-3.3M319.5 445.5h3.3M501.5 445.5h-3.3M319.5 442.5h3.3M501.5 442.5h-3.3M319.5 439.5h3.3M501.5 439.5h-3.3M319.5 437.5h3.3M501.5 437.5h-3.3M319.5 434.5h3.3M501.5 434.5h-3.3M319.5 433.5h3.3M501.5 433.5h-3.3M319.5 431.5h6.0M501.5 431.5h-6.0M319.5 420.5h3.3M501.5 420.5h-3.3M319.5 414.5h3.3M501.5 414.5h-3.3M319.5 409.5h3.3M501.5 409.5h-3.3M319.5 405.5h3.3M501.5 405.5h-3.3M319.5 403.5h3.3M501.5 403.5h-3.3M319.5 400.5h3.3M501.5 400.5h-3.3M319.5 398.5h3.3M501.5 398.5h-3.3M319.5 396.5h3.3M501.5 396.5h-3.3M319.5 395.5h6.0M501.5 395.5h-6.0M319.5 384.5h3.3M501.5 384.5h-3.3M319.5 377.5h3.3M501.5 377.5h-3.3M319.5 373.5h3.3M501.5 373.5h-3.3M319.5 369.5h3.3M501.5 369.5h-3.3M319.5 366.5h3.3M501.5 366.5h-3.3M319.5 364.5h3.3M501.5 364.5h-3.3M319.5 362.5h3.3M501.5 362.5h-3.3M319.5 360.5h3.3M501.5 360.5h-3.3M319.5 358.5h6.0M501.5 358.5h-6.0M319.5 347.5h3.3M501.5 347.5h-3.3M319.5 341.5h3.3M501.5 341.5h-3.3M319.5 336.5h3.3M501.5 336.5h-3.3M319.5 333.5h3.3M501.5 333.5h-3.3M319.5 330.5h3.3M501.5 330.5h-3.3M319.5 327.5h3.3M501.5 327.5h-3.3M319.5 325.5h3.3M501.5 325.5h-3.3M319.5 323.5h3.3M501.5 323.5h-3.3" stroke="#000" stroke-width="0.72" fill="none"/>
<rect x="319.5" y="322.5" width="182.0" height="218.0" fill="none" stroke="#000" stroke-width="1.39"/>
<text x="319.32" y="563.60" font-size="16.67" text-anchor="middle">10<tspan font-size="11.67" dy="-8.0">0</tspan></text>
<text x="380.11" y="563.60" font-size="16.67" text-anchor="middle">10<tspan font-size="11.67" dy="-8.0">1</tspan></text>
<text x="440.89" y="563.60" font-size="16.67" text-anchor="middle">10<tspan font-size="11.67" dy="-8.0">2</tspan></text>
<text x="501.68" y="563.60" font-size="16.67" text-anchor="middle">10<tspan font-size="11.67" dy="-8.0">3</tspan></text>
<text x="312.22" y="546.60" font-size="16.67" text-anchor="end">10<tspan font-size="11.67" dy="-8.0">-6</tspan></text>
<text x="312.22" y="510.24" font-size="16.67" text-anchor="end">10<tspan font-size="11.67" dy="-8.0">-5</tspan></text>
<text x="312.22" y="473.87" font-size="16.67" text-anchor="end">10<tspan font-size="11.67" dy="-8.0">-4</tspan></text>
<text x="312.22" y="437.51" font-size="16.67" text-anchor="end">10<tspan font-size="11.67" dy="-8.0">-3</tspan></text>
<text x="312.22" y="401.15" font-size="16.67" text-anchor="end">10<tspan font-size="11.67" dy="-8.0">-2</tspan></text>
<text x="312.22" y="364.78" font-size="16.67" text-anchor="end">10<tspan font-size="11.67" dy="-8.0">-1</tspan></text>
<text x="312.22" y="328.42" font-size="16.67" text-anchor="end">10<tspan font-size="11.67" dy="-8.0">0</tspan></text>
<text x="409.30" y="315.12" font-size="20" text-anchor="middle">Coach</text>
<text x="410.60" y="586.50" font-size="16.67" text-anchor="middle">dt (min)</text>
</g>
<g>
<clipPath id="c5"><rect x="537.65" y="321.82" width="182.35" height="218.18"/></clipPath>
<g clip-path="url(#c5)" fill="#0000ff" >
<circle cx="538.5" cy="327.5" r="2.4"/>
<circle cx="556.5" cy="341.5" r="2.4"/>
<circle cx="567.5" cy="360.5" r="2.4"/>
<circle cx="574.5" cy="372.5" r="2.4"/>
<circle cx="580.5" cy="379.5" r="2.4"/>
<circle cx="585.5" cy="388.5" r="2.4"/>
<circle cx="589.5" cy="393.5" r="2.4"/>
<circle cx="593.5" cy="398.5" r="2.4"/>
<circle cx="596.5" cy="404.5" r="2.4"/>
<circle cx="598.5" cy="402.5" r="2.4"/>
<circle cx="601.5" cy="411.5" r="2.4"/>
<circle cx="603.5" cy="412.5" r="2.4"/>
<circle cx="605.5" cy="416.5" r="2.4"/>
<circle cx="609.5" cy="413.5" r="2.4"/>
<circle cx="607.5" cy="420.5" r="2.4"/>
<circle cx="617.5" cy="421.5" r="2.4"/>
<circle cx="611.5" cy="427.5" r="2.4"/>
<circle cx="612.5" cy="428.5" r="2.4"/>
<circle cx="614.5" cy="426.5" r="2.4"/>
<circle cx="623.5" cy="428.5" r="2.4"/>
<circle cx="615.5" cy="433.5" r="2.4"/>
<circle cx="618.5" cy="436.5" r="2.4"/>
<circle cx="620.5" cy="434.5" r="2.4"/>
<circle cx="618.5" cy="433.5" r="2.4"/>
<circle cx="622.5" cy="440.5" r="2.4"/>
<circle cx="627.5" cy="442.5" r="2.4"/>
<circle cx="624.5" cy="447.5" r="2.4"/>
<circle cx="626.5" cy="447.5" r="2.4"/>
<circle cx="632.5" cy="446.5" r="2.4"/>
<circle cx="635.5" cy="449.5" r="2.4"/>
<circle cx="627.5" cy="453.5" r="2.4"/>
<circle cx="629.5" cy="457.5" r="2.4"/>
<circle cx="630.5" cy="456.5" r="2.4"/>
<circle cx="628.5" cy="462.5" r="2.4"/>
<circle cx="648.5" cy="452.5" r="2.4"/>
<circle cx="655.5" cy="452.5" r="2.4"/>
<circle cx="646.5" cy="455.5" r="2.4"/>
<circle cx="652.5" cy="457.5" r="2.4"/>
<circle cx="634.5" cy="462.5" r="2.4"/>
<circle cx="637.5" cy="463.5" r="2.4"/>
<circle cx="639.5" cy="460.5" r="2.4"/>
<circle cx="641.5" cy="460.5" r="2.4"/>
<circle cx="643.5" cy="465.5" r="2.4"/>
<circle cx="632.5" cy="468.5" r="2.4"/>
<circle cx="633.5" cy="471.5" r="2.4"/>
<circle cx="638.5" cy="470.5" r="2.4"/>
<circle cx="636.5" cy="473.5" r="2.4"/>
<circle cx="640.5" cy="473.5" r="2.4"/>
<circle cx="634.5" cy="476.5" r="2.4"/>
<circle cx="638.5" cy="476.5" r="2.4"/>
<circle cx="641.5" cy="475.5" r="2.4"/>
<circle cx="650.5" cy="469.5" r="2.4"/>
<circle cx="658.5" cy="470.5" r="2.4"/>
<circle cx="665.5" cy="470.5" r="2.4"/>
<circle cx="659.5" cy="472.5" r="2.4"/>
<circle cx="663.5" cy="476.5" r="2.4"/>
<circle cx="660.5" cy="481.5" r="2.4"/>
<circle cx="678.5" cy="482.5" r="2.4"/>
<circle cx="642.5" cy="488.5" r="2.4"/>
<circle cx="644.5" cy="487.5" r="2.4"/>
<circle cx="647.5" cy="489.5" r="2.4"/>
<circle cx="651.5" cy="490.5" r="2.4"/>
<circle cx="654.5" cy="487.5" r="2.4"/>
<circle cx="656.5" cy="489.5" r="2.4"/>
<circle cx="659.5" cy="492.5" r="2.4"/>
<circle cx="662.5" cy="492.5" r="2.4"/>
<circle cx="667.5" cy="487.5" r="2.4"/>
<circle cx="674.5" cy="487.5" r="2.4"/>
<circle cx="679.5" cy="487.5" r="2.4"/>
<circle cx="670.5" cy="490.5" r="2.4"/>
<circle cx="672.5" cy="489.5" r="2.4"/>
<circle cx="673.5" cy="492.5" r="2.4"/>
<circle cx="641.5" cy="493.5" r="2.4"/>
<circle cx="687.5" cy="494.5" r="2.4"/>
<circle cx="701.5" cy="494.5" r="2.4"/>
<circle cx="661.5" cy="497.5" r="2.4"/>
<circle cx="642.5" cy="498.5" r="2.4"/>
<circle cx="644.5" cy="498.5" r="2.4"/>
<circle cx="683.5" cy="498.5" r="2.4"/>
<circle cx="645.5" cy="502.5" r="2.4"/>
<circle cx="656.5" cy="500.5" r="2.4"/>
<circle cx="657.5" cy="502.5" r="2.4"/>
<circle cx="661.5" cy="502.5" r="2.4"/>
<circle cx="665.5" cy="502.5" r="2.4"/>
<circle cx="675.5" cy="502.5" r="2.4"/>
<circle cx="677.5" cy="500.5" r="2.4"/>
<circle cx="679.5" cy="500.5" r="2.4"/>
<circle cx="682.5" cy="502.5" r="2.4"/>
<circle cx="689.5" cy="502.5" r="2.4"/>
<circle cx="697.5" cy="502.5" r="2.4"/>
<circle cx="699.5" cy="502.5" r="2.4"/>
<circle cx="706.5" cy="502.5" r="2.4"/>
<circle cx="653.5" cy="507.5" r="2.4"/>
<circle cx="647.5" cy="511.5" r="2.4"/>
<circle cx="650.5" cy="511.5" r="2.4"/>
<circle cx="675.5" cy="511.5" r="2.4"/>
<circle cx="639.5" cy="519.5" r="2.4"/>
<circle cx="648.5" cy="519.5" r="2.4"/>
<circle cx="651.5" cy="519.5" r="2.4"/>
<circle cx="657.5" cy="519.5" r="2.4"/>
<circle cx="659.5" cy="519.5" r="2.4"/>
<circle cx="665.5" cy="519.5" r="2.4"/>
<circle cx="669.5" cy="519.5" r="2.4"/>
<circle cx="675.5" cy="519.5" r="2.4"/>
<circle cx="697.5" cy="519.5" r="2.4"/>
</g>
<path d="M556.5 540.5v-3.3M556.5 322.5v3.3M567.5 540.5v-3.3M567.5 322.5v3.3M574.5 540.5v-3.3M574.5 322.5v3.3M580.5 540.5v-3.3M580.5 322.5v3.3M585.5 540.5v-3.3M585.5 322.5v3.3M589.5 540.5v-3.3M589.5 322.5v3.3M593.5 540.5v-3.3M593.5 322.5v3.3M596.5 540.5v-3.3M596.5 322.5v3.3M598.5 540.5v-6.0M598.5 322.5v6.0M617.5 540.5v-3.3M617.5 322.5v3.3M627.5 540.5v-3.3M627.5 322.5v3.3M635.5 540.5v-3.3M635.5 322.5v3.3M641.5 540.5v-3.3M641.5 322.5v3.3M646.5 540.5v-3.3M646.5 322.5v3.3M650.5 540.5v-3.3M650.5 322.5v3.3M653.5 540.5v-3.3M653.5 322.5v3.3M656.5 540.5v-3.3M656.5 322.5v3.3M659.5 540.5v-6.0M659.5 322.5v6.0M678.5 540.5v-3.3M678.5 322.5v3.3M688.5 540.5v-3.3M688.5 322.5v3.3M696.5 540.5v-3.3M696.5 322.5v3.3M702.5 540.5v-3.3M702.5 322.5v3.3M707.5 540.5v-3.3M707.5 322.5v3.3M711.5 540.5v-3.3M711.5 322.5v3.3M714.5 540.5v-3.3M714.5 322.5v3.3M717.5 540.5v-3.3M717.5 322.5v3.3M538.5 533.5h3.3M720.5 533.5h-3.3M538.5 525.5h3.3M720.5 525.5h-3.3M538.5 521.5h3.3M720.5 521.5h-3.3M538.5 518.5h3.3M720.5 518.5h-3.3M538.5 516.5h6.0M720.5 516.5h-6.0M538.5 508.5h3.3M720.5 508.5h-3.3M538.5 501.5h3.3M720.5 501.5h-3.3M538.5 497.5h3.3M720.5 497.5h-3.3M538.5 494.5h3.3M720.5 494.5h-3.3M538.5 492.5h6.0M720.5 492.5h-6.0M538.5 484.5h3.3M720.5 484.5h-3.3M538.5 477.5h3.3M720.5 477.5h-3.3M538.5 473.5h3.3M720.5 473.5h-3.3M538.5 470.5h3.3M720.5 470.5h-3.3M538.5 467.5h6.0M720.5 467.5h-6.0M538.5 460.5h3.3M720.5 460.5h-3.3M538.5 453.5h3.3M720.5 453.5h-3.3M538.5 448.5h3.3M720.5 448.5h-3.3M538.5 445.5h3.3M720.5 445.5h-3.3M538.5 443.5h6.0M720.5 443.5h-6.0M538.5 436.5h3.3M720.5 436.5h-3.3M538.5 428.5h3.3M720.5 428.5h-3.3M538.5 424.5h3.3M720.5 424.5h-3.3M538.5 421.5h3.3M720.5 421.5h-3.3M538.5 419.5h6.0M720.5 419.5h-6.0M538.5 411.5h3.3M720.5 411.5h-3.3M538.5 404.5h3.3M720.5 404.5h-3.3M538.5 400.5h3.3M720.5 400.5h-3.3M538.5 397.5h3.3M720.5 397.5h-3.3M538.5 395.5h6.0M720.5 395.5h-6.0M538.5 387.5h3.3M720.5 387.5h-3.3M538.5 380.5h3.3M720.5 380.5h-3.3M538.5 376.5h3.3M720.5 376.5h-3.3M538.5 373.5h3.3M720.5 373.5h-3.3M538.5 370.5h6.0M720.5 370.5h-6.0M538.5 363.5h3.3M720.5 363.5h-3.3M538.5 356.5h3.3M720.5 356.5h-3.3M538.5 351.5h3.3M720.5 351.5h-3.3M538.5 348.5h3.3M720.5 348.5h-3.3M538.5 346.5h6.0M720.5 346.5h-6.0M538.5 339.5h3.3M720.5 339.5h-3.3M538.5 331.5h3.3M720.5 331.5h-3.3M538.5 327.5h3.3M720.5 327.5h-3.3M538.5 324.5h3.3M720.5 324.5h-3.3" stroke="#000" stroke-width="0.72" fill="none"/>
<rect x="538.5" y="322.5" width="182.0" height="218.0" fill="none" stroke="#000" stroke-width="1.39"/>
<text x="538.15" y="563.60" font-size="16.67" text-anchor="middle">10<tspan font-size="11.67" dy="-8.0">0</tspan></text>
<text x="598.93" y="563.60" font-size="16.67" text-anchor="middle">10<tspan font-size="11.67" dy="-8.0">1</tspan></text>
<text x="659.72" y="563.60" font-size="16.67" text-anchor="middle">10<tspan font-size="11.67" dy="-8.0">2</tspan></text>
<text x="720.50" y="563.60" font-size="16.67" text-anchor="middle">10<tspan font-size="11.67" dy="-8.0">3</tspan></text>
<text x="531.75" y="546.60" font-size="16.67" text-anchor="end">10<tspan font-size="11.67" dy="-8.0">-9</tspan></text>
<text x="531.75" y="522.36" font-size="16.67" text-anchor="end">10<tspan font-size="11.67" dy="-8.0">-8</tspan></text>
<text x="531.75" y="498.12" font-size="16.67" text-anchor="end">10<tspan font-size="11.67" dy="-8.0">-7</tspan></text>
<text x="531.75" y="473.87" font-size="16.67" text-anchor="end">10<tspan font-size="11.67" dy="-8.0">-6</tspan></text>
<text x="531.75" y="449.63" font-size="16.67" text-anchor="end">10<tspan font-size="11.67" dy="-8.0">-5</tspan></text>
<text x="531.75" y="425.39" font-size="16.67" text-anchor="end">10<tspan font-size="11.67" dy="-8.0">-4</tspan></text>
<text x="531.75" y="401.15" font-size="16.67" text-anchor="end">10<tspan font-size="11.67" dy="-8.0">-3</tspan></text>
<text x="531.75" y="376.90" font-size="16.67" text-anchor="end">10<tspan font-size="11.67" dy="-8.0">-2</tspan></text>
<text x="531.75" y="352.66" font-size="16.67" text-anchor="end">10<tspan font-size="11.67" dy="-8.0">-1</tspan></text>
<text x="531.75" y="328.42" font-size="16.67" text-anchor="end">10<tspan font-size="11.67" dy="-8.0">0</tspan></text>
<text x="628.12" y="315.12" font-size="20" text-anchor="middle">Bus</text>
<text x="629.42" y="586.50" font-size="16.67" text-anchor="middle">dt (min)</text>
</g>
</svg></body></html>
